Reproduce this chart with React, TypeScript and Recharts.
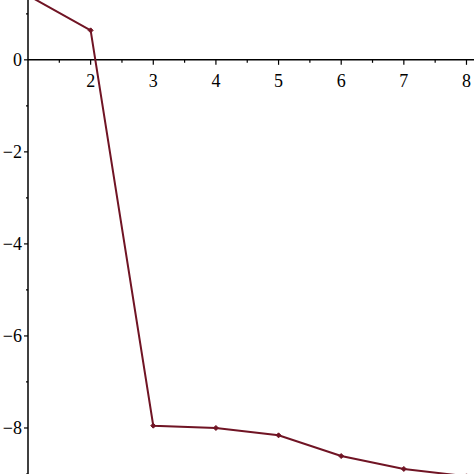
import { LineChart, Line, XAxis, YAxis, ReferenceLine, ReferenceDot } from "recharts";

const xs = [1, 2, 3, 4, 5, 6, 7, 8];
const ys = [1.4, 0.64, -7.95, -8.0, -8.16, -8.61, -8.89, -9.05];
const yTicks = [-9, -8, -7, -6, -5, -4, -3, -2, -1, 0, 1];
const xTicks = [1.5, 2, 2.5, 3, 3.5, 4, 4.5, 5, 5.5, 6, 6.5, 7, 7.5, 8];

const data = xs.map((x, i) => ({ x, y: ys[i] }));

const LINE = "#701424";
const SERIF = "Liberation Serif";

function YTick({ x, y, payload }: any) {
  const v = payload.value;
  const major = v % 2 === 0;
  return (
    <g style={{ fontFamily: SERIF }}>
      <line x1={x - (major ? 4 : 2)} x2={x} y1={y} y2={y} stroke="#000" strokeWidth={1.2} />
      {major && (
        <text x={x - 6} y={y} dy="0.35em" textAnchor="end" fontFamily={SERIF} fontSize={18} style={{ fontFamily: SERIF }} fill="#000">
          {v < 0 ? `\u2212${-v}` : `${v}`}
        </text>
      )}
    </g>
  );
}

function XTick({ cx, cy, v }: any) {
  const major = Number.isInteger(v);
  return (
    <g style={{ fontFamily: SERIF }}>
      <line x1={cx} x2={cx} y1={cy} y2={cy + (major ? 5 : 3)} stroke="#000" strokeWidth={1.2} />
      {major && (
        <text x={cx} y={cy + 21} dy="0.35em" textAnchor="middle" fontFamily={SERIF} fontSize={18} style={{ fontFamily: SERIF }} fill="#000">
          {v}
        </text>
      )}
    </g>
  );
}

function Marker({ cx, cy }: any) {
  if (cx == null || cy == null) return null;
  return <path d={`M${cx},${cy - 2.5}L${cx + 2.5},${cy}L${cx},${cy + 2.5}L${cx - 2.5},${cy}Z`} fill={LINE} stroke={LINE} strokeWidth={1} />;
}

export default function App() {
  return (
    <div style={{ position: "fixed", left: 0, top: 0, width: 474, height: 474, background: "#fff" }}>
      <LineChart width={474} height={474} data={data} margin={{ top: 0, right: 0, bottom: 0, left: 0 }} style={{ fontFamily: SERIF }}>
        <XAxis dataKey="x" type="number" domain={[1, 8.12]} allowDataOverflow hide />
        <YAxis
          type="number"
          domain={[-9, 1.3]}
          allowDataOverflow
          ticks={yTicks}
          interval={0}
          width={28}
          tickSize={0}
          tickMargin={0}
          tickLine={false}
          axisLine={{ stroke: "#000", strokeWidth: 1.5 }}
          tick={<YTick />}
        />
        <ReferenceLine y={0} stroke="#000" strokeWidth={1.5} />
        {xTicks.map((v) => (
          <ReferenceDot key={v} x={v} y={0} r={0} shape={(p: any) => <XTick cx={p.cx} cy={p.cy} v={v} />} />
        ))}
        <Line
          type="linear"
          dataKey="y"
          stroke={LINE}
          strokeWidth={2}
          dot={<Marker />}
          activeDot={false}
          isAnimationActive={false}
        />
      </LineChart>
    </div>
  );
}
